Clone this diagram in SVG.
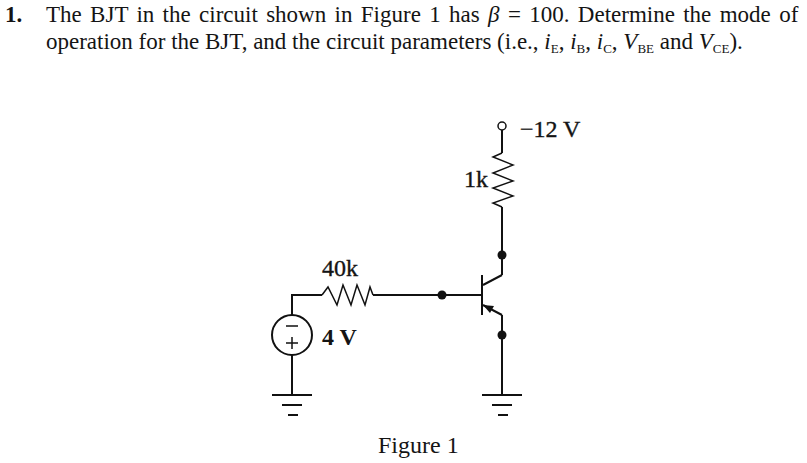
<svg xmlns="http://www.w3.org/2000/svg" width="807" height="463" viewBox="0 0 807 463">
<style>
text{font-family:"Liberation Serif","Times New Roman",serif;fill:#141414}
.q{font-size:23px}
.l{font-size:24px}
.h{font-size:24px;stroke:#141414;stroke-width:.35}
.b{font-weight:bold}
.i{font-style:italic}
.s{font-size:13px}
.w{fill:none;stroke:#111;stroke-width:2}
.t{fill:none;stroke:#111;stroke-width:1.5}
.d{fill:#111}
</style>
<rect width="807" height="463" fill="#fff"/>
<g id="question">
<text class="q b" x="5" y="22">1.</text>
<text class="q" x="46" y="22" word-spacing="2.6">The BJT in the circuit shown in Figure 1 has <tspan class="i">β</tspan> = 100. Determine the mode of</text>
<text class="q" x="46" y="49">operation for the BJT, and the circuit parameters (i.e., <tspan class="i">i</tspan><tspan class="s" dy="4">E</tspan><tspan dy="-4">, </tspan><tspan class="i">i</tspan><tspan class="s" dy="4">B</tspan><tspan dy="-4">, </tspan><tspan class="i">i</tspan><tspan class="s" dy="4">C</tspan><tspan dy="-4">, </tspan><tspan class="i">V</tspan><tspan class="s" dy="4">BE</tspan><tspan dy="-4"> and </tspan><tspan class="i">V</tspan><tspan class="s" dy="4">CE</tspan><tspan dy="-4">).</tspan></text>
</g>
<g id="connectors">
<path class="w" d="M502 130V153M502 207V275"/>
<path class="w" d="M292 315V295H322M373 295H482"/>
<path class="w" d="M292 355V395"/>
<path class="w" d="M502 315V395"/>
</g>
<g id="terminal">
<circle class="t" cx="502" cy="126" r="4"/>
<text class="h" x="520" y="137">−12 V</text>
</g>
<g id="r1k">
<path class="t" d="M502 153L493 157L513 165L493 173L513 181L493 188L513 196L493 203L502 207"/>
<text class="h" x="464" y="187">1k</text>
</g>
<g id="r40k">
<path class="t" d="M322 295L328 287L337 305L343 285L351 305L357 285L365 305L370 287L373 295"/>
<text class="h" x="322" y="276">40k</text>
</g>
<g id="source">
<circle class="w" cx="292" cy="335" r="20"/>
<path class="t" d="M286 326H298M286 343H298M292 337V349"/>
<text class="l b" x="322" y="345">4 V</text>
</g>
<g id="bjt">
<path class="w" d="M482 275V315M483 285L502 275M483 305L502 315"/>
<path class="d" d="M483 305L494 306L490 313Z"/>
</g>
<g id="junctions">
<circle class="d" cx="502" cy="255" r="4.5"/>
<circle class="d" cx="442" cy="295" r="4.5"/>
<circle class="d" cx="502" cy="335" r="4.5"/>
</g>
<g id="ground-left">
<path class="w" d="M272 395H312M282 405H302M288 415H298"/>
</g>
<g id="ground-right">
<path class="w" d="M482 395H522M492 405H512M498 415H508"/>
</g>
<g id="caption">
<text class="l" x="378" y="453">Figure 1</text>
</g>
</svg>
